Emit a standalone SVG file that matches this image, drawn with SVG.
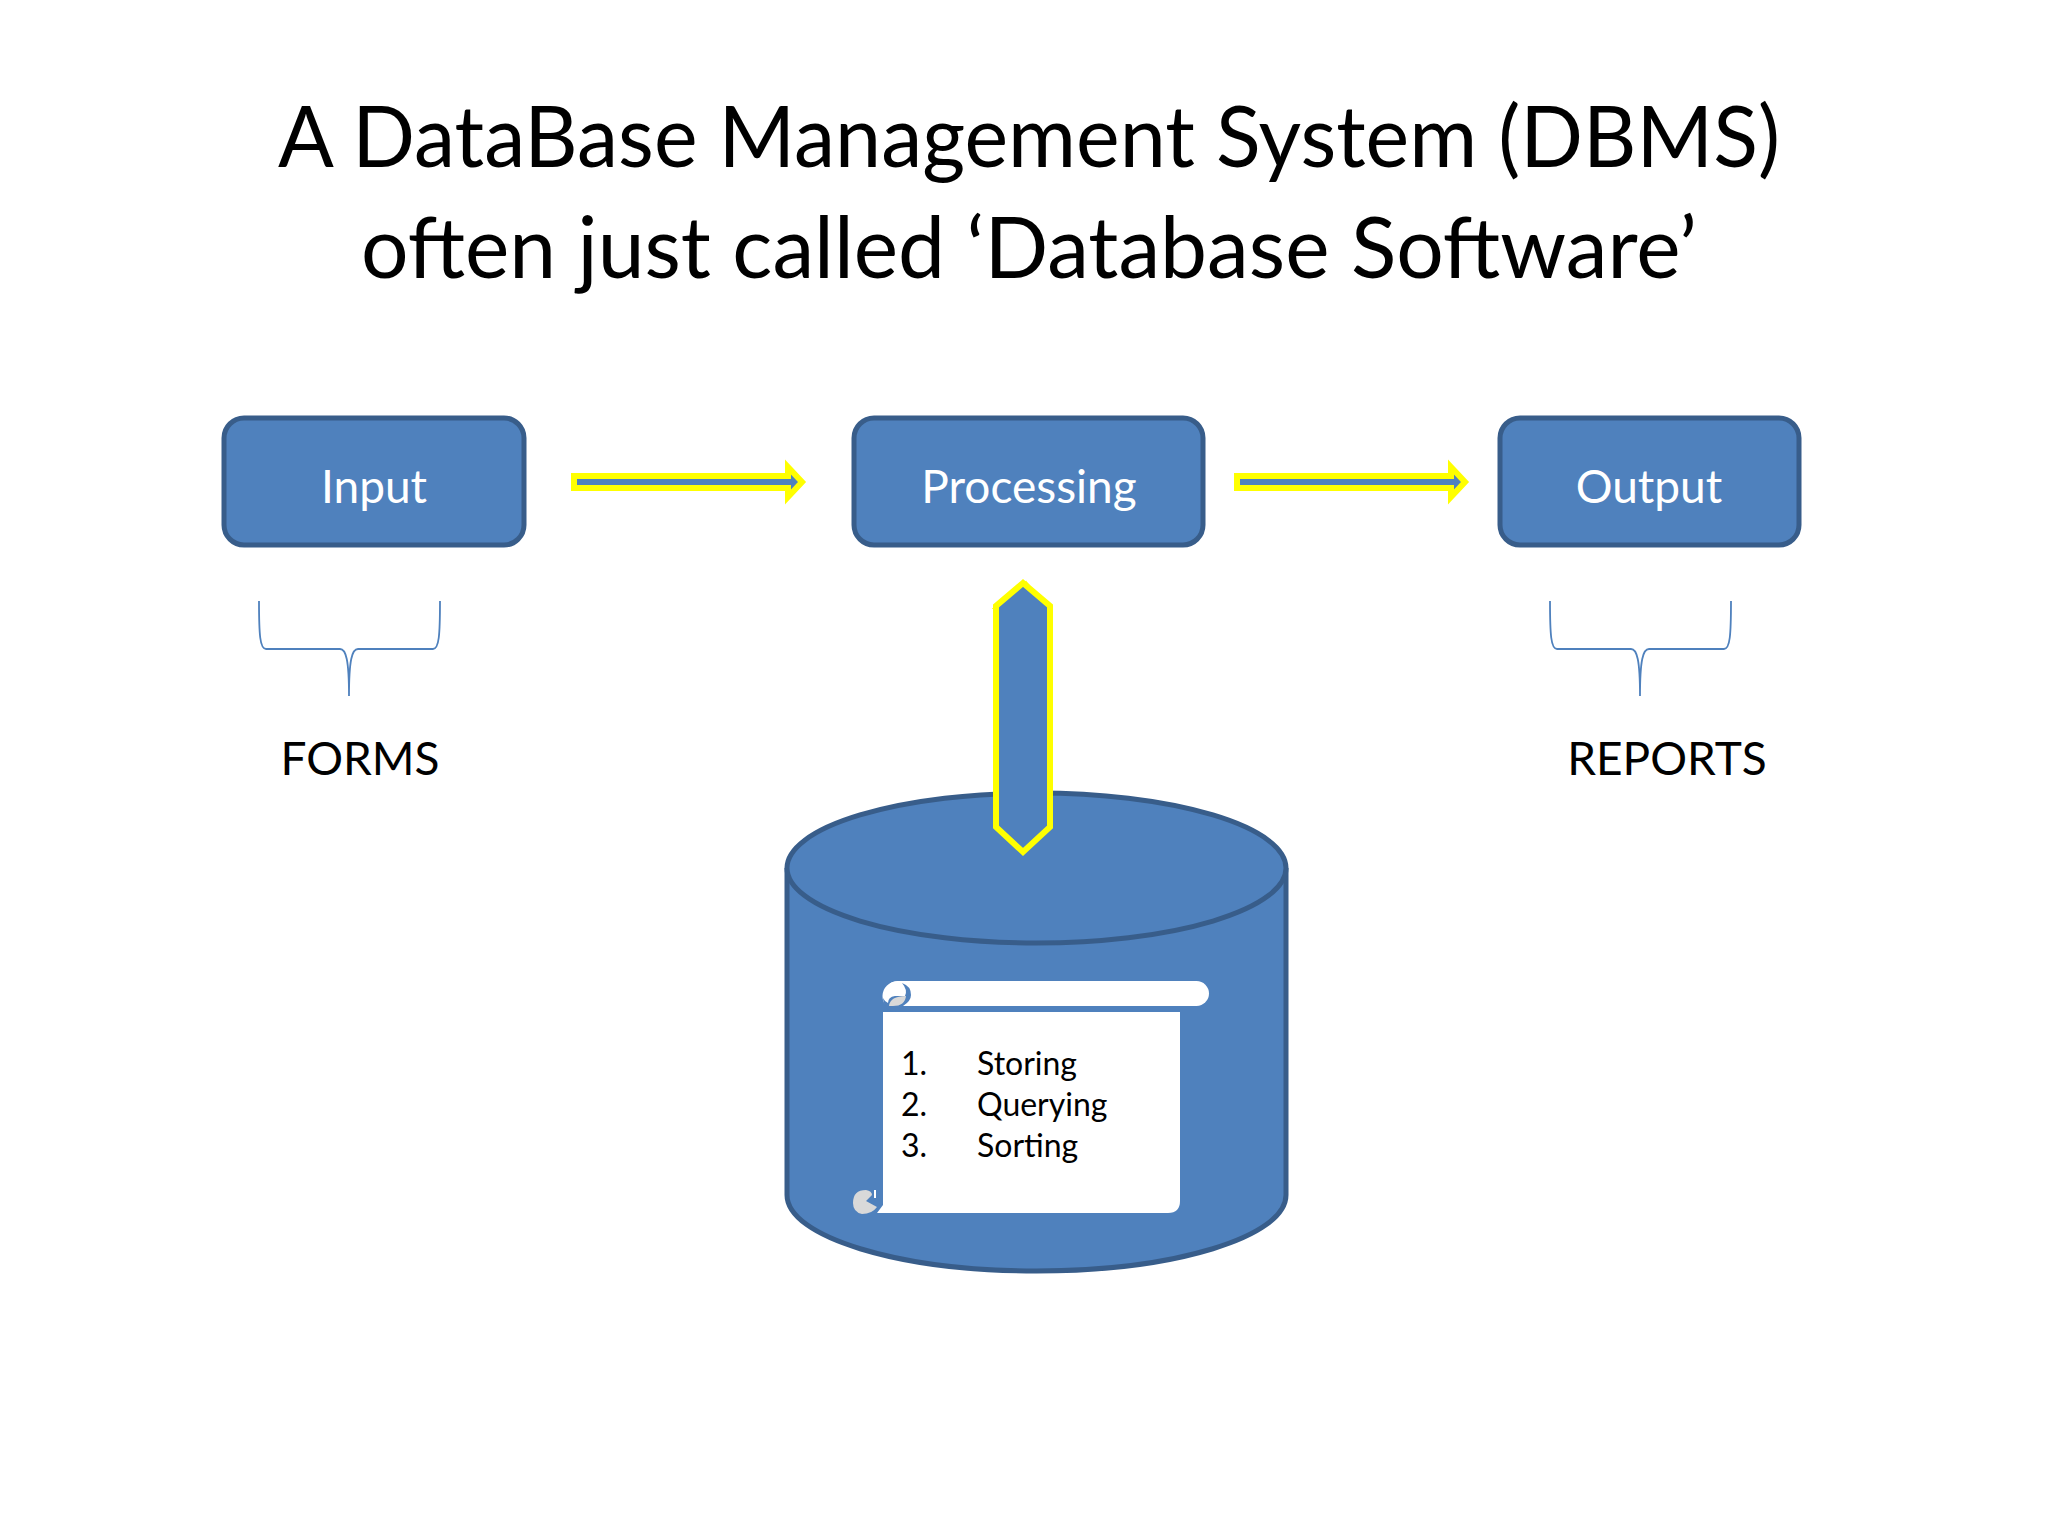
<svg xmlns="http://www.w3.org/2000/svg" width="2048" height="1536" viewBox="0 0 2048 1536">
<style>
text{font-family:"Lato","Carlito","Liberation Sans",sans-serif;fill:#000}
.box{fill:#4f81bd;stroke:#385d8a;stroke-width:5}
.lbl{fill:#fff;font-size:46px;text-anchor:middle}
.arrow{fill:#4f81bd;stroke:#ffff00;stroke-width:6}
.brace{fill:none;stroke:#4f81bd;stroke-width:1.8}
.title{font-size:85px;text-anchor:middle}
.cap{font-size:46px;text-anchor:middle}
.li{font-size:32px}
</style>
<rect width="2048" height="1536" fill="#fff"/>
<g id="title">
<text class="title" x="1029" y="167" textLength="1502" lengthAdjust="spacingAndGlyphs">A DataBase Management System (DBMS)</text>
<text class="title" x="1029" y="278" textLength="1336" lengthAdjust="spacingAndGlyphs">often just called ‘Database Software’</text>
</g>
<g id="database">
<path d="M787 868V1195C787 1237 899 1271 1036.500 1271S1286 1237 1286 1195V868" fill="#4f81bd" stroke="#385d8a" stroke-width="5"/>
<ellipse cx="1036.500" cy="868" rx="249.500" ry="75" fill="#4f81bd" stroke="#385d8a" stroke-width="5"/>
</g>
<g id="scroll">
<path d="M883 1012H1180V1201Q1180 1213 1168 1213H877L883 1205Z" fill="#fff"/>
<rect x="885" y="981" width="324" height="25" rx="12.500" fill="#fff"/>
<circle cx="897" cy="996" r="14.500" fill="#fff"/>
<path d="M883 998Q884 1012 897 1012H912V1006H903Q911 1001 911 995Q911 986 902 983Q908 990 905 996H895Q888 997 888 1003Q885 1002 883 998Z" fill="#4f81bd"/>
<path d="M889 1006Q890 996 906 996Q905 1006 893 1006Z" fill="#d9d9d9"/>
<path d="M853 1203Q853 1190 866 1190Q872 1191 872 1195L866 1201L877 1207Q872 1214 862 1214Q853 1212 853 1203Z" fill="#d9d9d9"/>
<rect x="874" y="1190" width="2" height="8" fill="#fff"/>
<text class="li" x="901" y="1075">1.</text><text class="li" x="977" y="1075">Storing</text>
<text class="li" x="901" y="1116">2.</text><text class="li" x="977" y="1116">Querying</text>
<text class="li" x="901" y="1157">3.</text><text class="li" x="977" y="1157">Sorting</text>
</g>
<g id="input"><rect class="box" x="224" y="418" width="300" height="127" rx="20"/><text class="lbl" x="374" y="503">Input</text></g>
<g id="processing"><rect class="box" x="854" y="418" width="349" height="127" rx="20"/><text class="lbl" x="1029" y="503">Processing</text></g>
<g id="output"><rect class="box" x="1500" y="418" width="299" height="127" rx="20"/><text class="lbl" x="1649" y="503">Output</text></g>
<g id="connectors">
<path class="arrow" d="M574 476H788V467L802 482L788 497V488H574Z"/>
<path class="arrow" d="M1237 476H1451V467L1465 482L1451 497V488H1237Z"/>
<path class="arrow" d="M1001 606L1028 583L1000 606Z"/>
<path class="arrow" d="M1028 583L1001 606V827L1028 852L1055 827V606Z" transform="translate(-5 0)"/>
</g>
<g id="forms"><path class="brace" d="M259 601C259 635 260 649 266 649H340C346 649 349 660 349 696C349 660 352 649 358 649H433C439 649 440 635 440 601"/><text class="cap" x="360" y="775">FORMS</text></g>
<g id="reports"><path class="brace" d="M1550 601C1550 635 1551 649 1557 649H1631C1637 649 1640 660 1640 696C1640 660 1643 649 1649 649H1724C1730 649 1731 635 1731 601"/><text class="cap" x="1667" y="775">REPORTS</text></g>
</svg>
